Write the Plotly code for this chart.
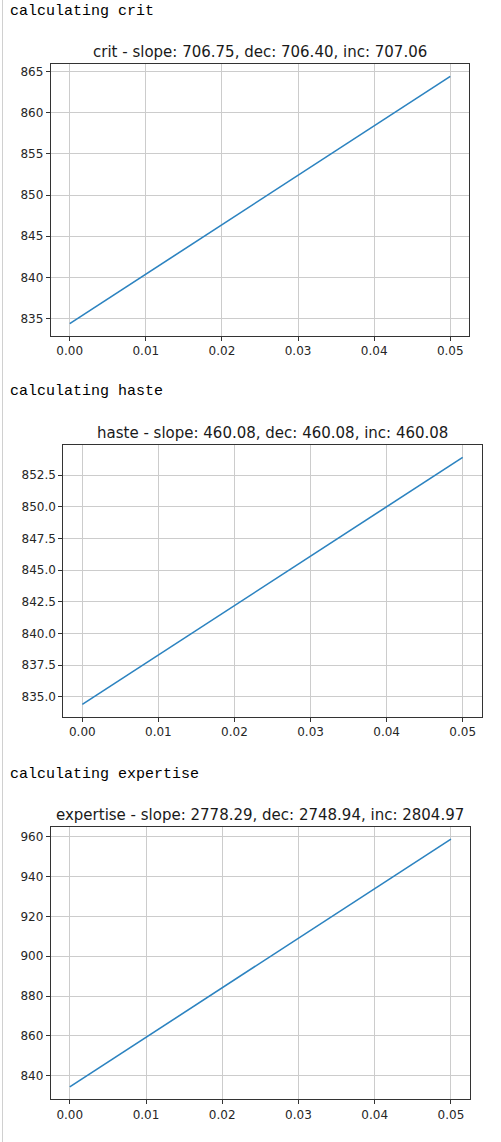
import plotly.graph_objects as go

W, H = 501, 1142

x_vals = [0.00, 0.01, 0.02, 0.03, 0.04, 0.05]
crit = [834.4, 840.4, 846.4, 852.4, 858.4, 864.4]
haste = [834.4, 838.3, 842.2, 846.1, 850.0, 853.9]
expertise = [834.4, 859.3, 884.2, 909.0, 933.9, 958.8]

names = ["crit", "haste", "expertise"]
series = [crit, haste, expertise]
titles = [
    "crit - slope: 706.75, dec: 706.40, inc: 707.06",
    "haste - slope: 460.08, dec: 460.08, inc: 460.08",
    "expertise - slope: 2778.29, dec: 2748.94, inc: 2804.97",
]
y_dticks = [5, 2.5, 20]
y_formats = ["d", ".1f", "d"]

# box pixel positions: left, right, top, bottom
boxes = [
    (50.7, 469.3, 64.0, 336.0),
    (63.3, 481.7, 445.0, 716.8),
    (50.7, 470.0, 826.7, 1099.3),
]
label_y = [12, 392, 774]

fig = go.Figure()
layout = dict(
    width=W, height=H,
    margin=dict(l=0, r=0, t=0, b=0),
    paper_bgcolor="white", plot_bgcolor="white",
    showlegend=False,
    annotations=[], shapes=[],
)

def px_x(p):
    return p / W

def px_y(p):
    return 1 - p / H

for i, (name, vals) in enumerate(zip(names, series)):
    sfx = "" if i == 0 else str(i + 1)
    fig.add_trace(go.Scatter(
        x=x_vals, y=vals, mode="lines",
        line=dict(color="#2c83c0", width=1.6),
        xaxis="x" + sfx, yaxis="y" + sfx,
        hoverinfo="skip",
    ))
    l, r, t, b = boxes[i]
    xspan = max(x_vals) - min(x_vals)
    yspan = max(vals) - min(vals)
    common = dict(
        showline=True, mirror=True, linecolor="#333333", linewidth=1,
        ticks="outside", ticklen=4, tickwidth=1, tickcolor="#333333",
        showgrid=True, gridcolor="#cccccc", gridwidth=1,
        zeroline=False,
        tickfont=dict(family="DejaVu Sans", size=12, color="#262626"),
    )
    layout["xaxis" + sfx] = dict(
        common,
        domain=[px_x(l), px_x(r)],
        anchor="y" + sfx,
        range=[min(x_vals) - 0.05 * xspan, max(x_vals) + 0.05 * xspan],
        tickmode="linear", tick0=0, dtick=0.01, tickformat=".2f",
    )
    layout["yaxis" + sfx] = dict(
        common,
        domain=[px_y(b), px_y(t)],
        anchor="x" + sfx,
        range=[min(vals) - 0.05 * yspan, max(vals) + 0.05 * yspan],
        tickmode="linear", tick0=0, dtick=y_dticks[i], tickformat=y_formats[i],
    )
    layout["annotations"].append(dict(
        text=titles[i], xref="paper", yref="paper",
        x=px_x((l + r) / 2), y=px_y(t - 12), xanchor="center", yanchor="middle",
        showarrow=False,
        font=dict(family="DejaVu Sans", size=15, color="#1a1a1a"),
    ))
    layout["annotations"].append(dict(
        text="calculating " + name, xref="paper", yref="paper",
        x=px_x(8), y=px_y(label_y[i]), xanchor="left", yanchor="middle",
        showarrow=False,
        font=dict(family="Liberation Mono", size=15, color="#000000"),
    ))

layout["shapes"].append(dict(
    type="line", xref="paper", yref="paper",
    x0=px_x(2.5), x1=px_x(2.5), y0=0, y1=1,
    line=dict(color="#d0d0d0", width=1),
))

fig.update_layout(**layout)
fig.write_html(
    "out.html",
    config={"displayModeBar": False},
    post_script="document.body.style.margin='0';document.body.style.overflow='hidden';",
)
